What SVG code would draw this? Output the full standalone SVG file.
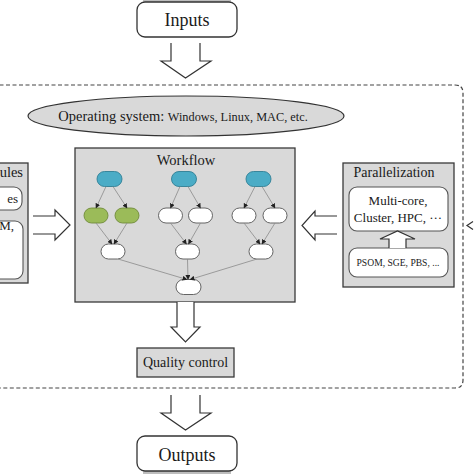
<svg xmlns="http://www.w3.org/2000/svg" width="474" height="474" viewBox="0 0 474 474">
<style>
text{font-family:"Liberation Serif","Times New Roman",serif;fill:#1a1a1a}
.box{fill:#d9d9d9;stroke:#3a3a3a;stroke-width:1.3}
.wbox{fill:#ffffff;stroke:#555;stroke-width:1.1}
.io{fill:#ffffff;stroke:#333;stroke-width:1.3}
.big{fill:#ffffff;stroke:#333;stroke-width:1.2}
.n{fill:#ffffff;stroke:#555;stroke-width:0.9}
.blue{fill:#4bacc6;stroke:#2f7f95;stroke-width:0.9}
.green{fill:#9bbb59;stroke:#6f8a3a;stroke-width:0.9}
.e{stroke:#8a8a8a;stroke-width:0.8;fill:none;marker-end:url(#ah)}
</style>
<defs>
<marker id="ah" markerWidth="5" markerHeight="5" refX="4.5" refY="2.5" orient="auto" markerUnits="userSpaceOnUse">
<path d="M0,0 L5,2.5 L0,5 Z" fill="#222"/>
</marker>
</defs>
<rect width="474" height="474" fill="#ffffff"/>
<g id="frame">
<path d="M-20,85 H455 Q463,85 463,93 V380 Q463,388 455,388 H-20" fill="none" stroke="#444" stroke-width="1.2" stroke-dasharray="4,2.5"/>
</g>
<g id="inputs">
<rect x="143" y="-2" width="88" height="4" fill="#bdbdbd"/>
<rect class="io" x="137" y="2" width="100" height="35" rx="8"/>
<text x="187" y="26" font-size="18" text-anchor="middle">Inputs</text>
</g>
<g id="os">
<ellipse cx="186" cy="116" rx="158" ry="20" fill="#d9d9d9" stroke="#333" stroke-width="1.2"/>
<text x="183" y="121" text-anchor="middle"><tspan font-size="14.5">Operating system: </tspan><tspan font-size="12.3">Windows, Linux, MAC, etc.</tspan></text>
</g>
<g id="modules">
<rect class="box" x="-20" y="163" width="48" height="120"/>
<text x="23" y="177" font-size="14.5" text-anchor="end">ules</text>
<rect class="wbox" x="-20" y="187" width="42" height="23" rx="8"/>
<text x="18" y="203" font-size="13" text-anchor="end">es</text>
<rect class="wbox" x="-20" y="221" width="43" height="58" rx="8"/>
<text x="14" y="230" font-size="13" text-anchor="end">M,</text>
</g>
<g id="workflow">
<rect class="box" x="75" y="148" width="220" height="154"/>
<text x="186" y="165" font-size="14.5" text-anchor="middle">Workflow</text>
</g>
<g id="parallelization">
<rect class="box" x="343" y="163" width="111" height="124"/>
<text x="394" y="177" font-size="14" text-anchor="middle">Parallelization</text>
<rect class="wbox" x="349" y="187" width="99" height="44" rx="8"/>
<text x="398" y="205" font-size="13" text-anchor="middle">Multi-core,</text>
<text x="398" y="222" font-size="13" text-anchor="middle">Cluster, HPC, ···</text>
<rect class="wbox" x="349" y="248" width="99" height="29" rx="8"/>
<text x="398" y="266" font-size="9.6" text-anchor="middle">PSOM, SGE, PBS, ...</text>
</g>
<g id="quality">
<rect class="box" x="137" y="348" width="97" height="29"/>
<text x="185.5" y="367" font-size="14" text-anchor="middle">Quality control</text>
</g>
<g id="outputs">
<rect x="143" y="470" width="88" height="6" fill="#bdbdbd"/>
<rect class="io" x="137" y="436" width="100" height="35" rx="8"/>
<text x="187" y="461" font-size="18" text-anchor="middle">Outputs</text>
</g>
<g id="wf-nodes">
<rect class="blue" x="97" y="171.5" width="25" height="15" rx="7.5"/>
<rect class="blue" x="171.5" y="171.5" width="25" height="15" rx="7.5"/>
<rect class="blue" x="246" y="171.5" width="25" height="15" rx="7.5"/>
<rect class="green" x="84" y="208" width="24" height="15" rx="7.5"/>
<rect class="green" x="115" y="208" width="24" height="15" rx="7.5"/>
<rect class="n" x="158.5" y="208" width="24" height="15" rx="7.5"/>
<rect class="n" x="188.5" y="208" width="24" height="15" rx="7.5"/>
<rect class="n" x="232" y="208" width="24" height="15" rx="7.5"/>
<rect class="n" x="263" y="208" width="24" height="15" rx="7.5"/>
<rect class="n" x="101" y="244" width="24" height="15" rx="7.5"/>
<rect class="n" x="175.5" y="244" width="24" height="15" rx="7.5"/>
<rect class="n" x="249" y="244" width="24" height="15" rx="7.5"/>
<rect class="n" x="176" y="279.5" width="25" height="15" rx="7.5"/>
</g>
<g id="connectors">
<path class="e" d="M106,186.5 L96,208"/>
<path class="e" d="M113,186.5 L127,208"/>
<path class="e" d="M180,186.5 L170.5,208"/>
<path class="e" d="M188,186.5 L200.5,208"/>
<path class="e" d="M255,186.5 L244,208"/>
<path class="e" d="M262,186.5 L275,208"/>
<path class="e" d="M96,223 L112,244"/>
<path class="e" d="M127,223 L114,244"/>
<path class="e" d="M170.5,223 L186.5,244"/>
<path class="e" d="M200.5,223 L188.5,244"/>
<path class="e" d="M244,223 L260,244"/>
<path class="e" d="M275,223 L262,244"/>
<path class="e" d="M118,259 L187,279.5"/>
<path class="e" d="M187.5,259 L188,279.5"/>
<path class="e" d="M257,259 L190,279.5"/>
<g fill="#ffffff" stroke="#333" stroke-width="1.2">
<path d="M171,43 V61 H161 L185.5,78 L211,61 H200 V43"/>
<path d="M177,302 V327 H171 L185.5,342 L200,327 H194 V302"/>
<path d="M171,395 V413 H161 L185.5,430 L211,413 H200 V395"/>
<path d="M33,216 H55 V210 L70,225 L55,240 V234 H33"/>
<path d="M337,216 H315 V211 L302,225.5 L315,240 V234 H337"/>
<path d="M389,248 V239 H380 L397.5,231 L415,239 H406 V248"/>
</g>
<polyline points="473,221.5 467,225.5 473,229.5" fill="none" stroke="#333" stroke-width="1.2"/>
</g>
</svg>
